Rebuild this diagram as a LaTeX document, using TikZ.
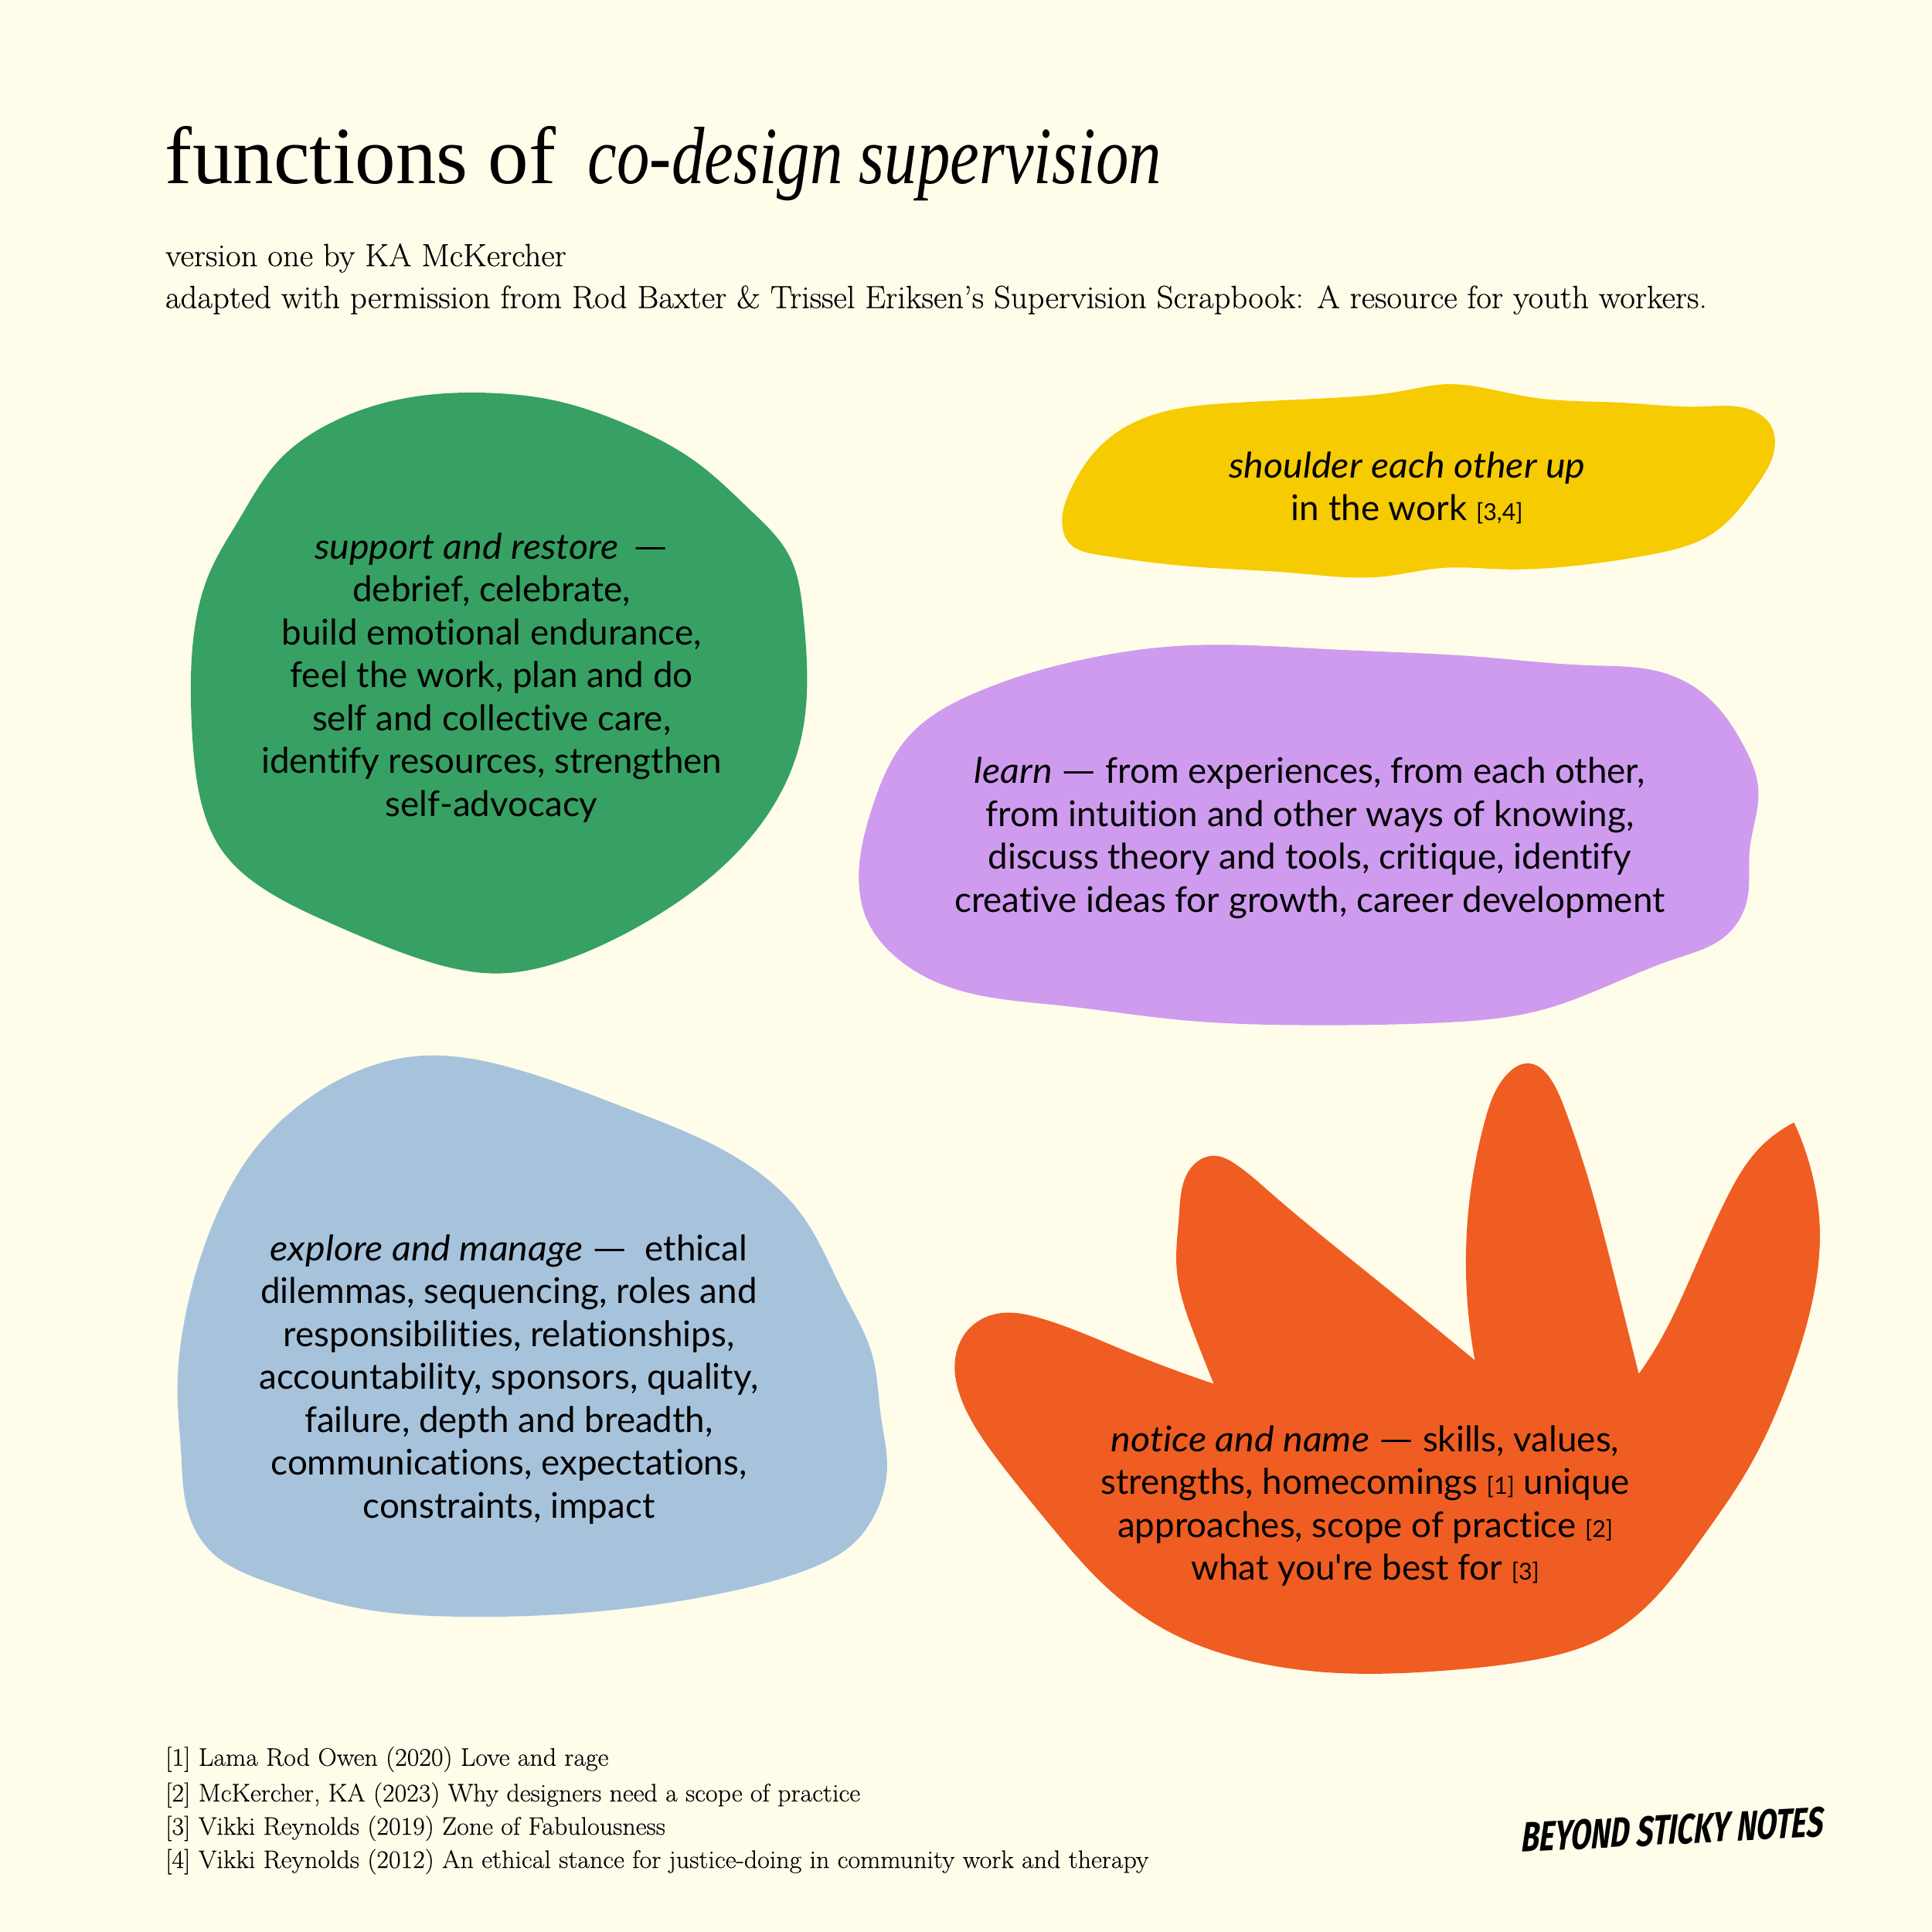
\documentclass[tikz,border=0pt]{standalone}
\usepackage{fontspec}
\usetikzlibrary{hobby}
\setmainfont{Latin Modern Roman}
\newfontfamily\subfont{Latin Modern Roman}[FakeBold=0.25]
\newfontfamily\bodyfont{Lato}[Ligatures=NoCommon]
\newfontfamily\titlefont{Liberation Serif}
\newfontfamily\logofont{Fira Sans}
\definecolor{bgc}{HTML}{FFFDEA}
\definecolor{greenb}{HTML}{36A163}
\definecolor{yellowb}{HTML}{F6CB02}
\definecolor{purpleb}{HTML}{CF9BEF}
\definecolor{blueb}{HTML}{A7C3DC}
\definecolor{orangeb}{HTML}{EF5D22}
\newcommand{\rf}[1]{{\fontsize{19}{19}\selectfont #1}}
\newcommand{\itl}[1]{\scalebox{1.06}[1]{\textit{#1}}}
\newcommand{\dd}{\scalebox{1.25}[1]{—}}
\tikzset{
  x=1pt,y=-1pt,
  blob/.style={use Hobby shortcut,closed=true},
  bodytext/.style={align=center,inner sep=0,font=\bodyfont\fontsize{28.7}{34.8}\selectfont,text=black},
  subline/.style={anchor=base west,inner sep=0,xscale=1.03,font=\subfont\fontsize{26}{28}\selectfont},
  footline/.style={anchor=base west,inner sep=0,xscale=1.04,font=\subfont\fontsize{20.5}{22}\selectfont},
  titleline/.style={anchor=base west,inner sep=0,font=\titlefont\fontsize{66}{70}\selectfont},
}
\begin{document}
\begin{tikzpicture}
\useasboundingbox (0,0) rectangle (1568,1568);
\fill[bgc] (0,0) rectangle (1568,1568);
% blobs
\fill[greenb,blob] (155,572)..(158,510)..(170,465)..(195,420)..(225,375)..(265,345)..(320,325)..(400,319)..(450,325)..(510,345)..(565,375)..(610,415)..(640,450)..(652,500)..(655,545)..(650,600)..(630,650)..(590,700)..(530,745)..(470,775)..(405,790)..(340,778)..(270,750)..(215,722)..(180,690)..(163,650)..(157,610);
\fill[yellowb,blob] (862,425)..(870,395)..(890,365)..(920,343)..(1000,327)..(1080,323)..(1140,317)..(1170,312)..(1240,322)..(1320,327)..(1380,330)..(1422,333)..(1437,345)..(1440,365)..(1425,395)..(1390,433)..(1340,450)..(1270,460)..(1220,462)..(1170,461)..(1122,468)..(1050,465)..(970,460)..(890,450)..(868,441);
\fill[purpleb,blob] (697,715)..(708,655)..(738,597)..(790,563)..(880,535)..(960,524)..(1080,527)..(1200,533)..(1290,540)..(1350,546)..(1385,565)..(1415,605)..(1427,640)..(1420,690)..(1418,730)..(1400,760)..(1360,778)..(1305,800)..(1250,820)..(1170,830)..(1060,832)..(960,828)..(860,816)..(770,801)..(725,775)..(703,745);
\fill[blueb,blob] (144,1130)..(150,1070)..(170,1000)..(205,935)..(260,885)..(340,857)..(420,868)..(510,900)..(590,935)..(650,985)..(685,1050)..(708,1100)..(715,1150)..(720,1190)..(712,1225)..(690,1255)..(660,1272)..(600,1290)..(520,1304)..(440,1311)..(370,1312)..(290,1305)..(220,1285)..(170,1258)..(152,1225)..(147,1180);
\fill[orangeb,use Hobby shortcut] (1456,911)..(1470,950)..(1477,1000)..(1470,1060)..(1450,1125)..(1420,1190)..(1380,1250)..(1335,1305)..(1300,1330)..(1240,1348)..(1170,1356)..(1090,1358)..(1010,1347)..(950,1325)..(900,1290)..(850,1235)..(810,1185)..(782,1140)..(775,1105)..(785,1080)..(810,1066)..(845,1070)..(915,1097)..(985,1123)
 -- (985,1123)..(970,1085)..(955,1030)..(957,985)..(965,950)..(985,938)..(1003,945)..(1030,967)..(1110,1033)..(1197,1104)
 -- (1197,1104)..(1190,1040)..(1192,980)..(1205,910)..(1225,870)..(1240,863)..(1258,875)..(1270,900)..(1290,960)..(1310,1035)..(1330,1115)
 -- (1330,1115)..(1345,1092)..(1375,1030)..(1400,975)..(1425,935)..(1456,911) -- cycle;
% heading
\node[titleline] (title) at (134,149) {functions of};
\node[titleline,xscale=0.806] (titleit) at (477,149) {\textit{co-design supervision}};
\node[subline] (sub1) at (134,216) {version one by KA McKercher};
\node[subline] (sub2) at (134,250) {adapted with permission from Rod Baxter \& Trissel Eriksen’s Supervision Scrapbook: A resource for youth workers.};
% blob texts
\node[bodytext] (green) at (399,550) {\itl{support and restore} \,\dd\\debrief, celebrate,\\build emotional endurance,\\feel the work, plan and do\\self and collective care,\\identify resources, strengthen\\self-advocacy};
\node[bodytext] (yellow) at (1142,396) {\itl{shoulder each other up}\\in the work \rf{[3,4]}};
\node[bodytext] (purple) at (1063,680) {\itl{learn} \dd{} from experiences, from each other,\\from intuition and other ways of knowing,\\discuss theory and tools, critique, identify\\creative ideas for growth, career development};
\node[bodytext] (blue) at (413,1119.5) {\itl{explore and manage} \dd{} \ ethical\\dilemmas, sequencing, roles and\\responsibilities, relationships,\\accountability, sponsors, quality,\\failure, depth and breadth,\\communications, expectations,\\constraints, impact};
\node[bodytext] (orange) at (1108,1222) {\itl{notice and name} \dd{} skills, values,\\strengths, homecomings \rf{[1]} unique\\approaches, scope of practice \rf{[2]}\\what you're best for \rf{[3]}};
% footnotes
\node[footline] (f1) at (134,1433) {[1] Lama Rod Owen (2020) Love and rage};
\node[footline] (f2) at (134,1462) {[2] McKercher, KA (2023) Why designers need a scope of practice};
\node[footline] (f3) at (134,1489) {[3] Vikki Reynolds (2019) Zone of Fabulousness};
\node[footline] (f4) at (134,1516) {[4] Vikki Reynolds (2012) An ethical stance for justice-doing in community work and therapy};
% logo
\node[inner sep=0,rotate=3,xslant=0.2,xscale=0.7,font=\logofont\bfseries\fontsize{34}{36}\selectfont] (logo) at (1358,1485) {BEYOND STICKY NOTES};
\end{tikzpicture}
\end{document}
